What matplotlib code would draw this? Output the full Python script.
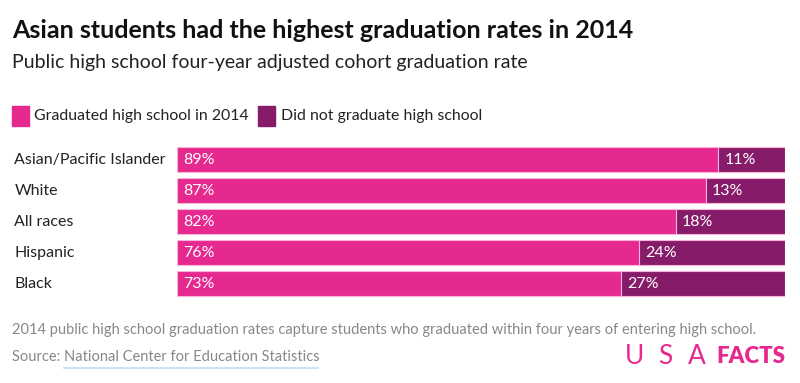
import matplotlib.pyplot as plt
import matplotlib.transforms as mtransforms
import numpy as np

plt.rcParams['font.family'] = ['Lato', 'DejaVu Sans']

groups = ["Asian/Pacific Islander", "White", "All races", "Hispanic", "Black"]
graduated = [89, 87, 82, 76, 73]
not_graduated = [11, 13, 18, 24, 27]
pink = '#E6298F'
purple = '#861C69'

fig = plt.figure(figsize=(8, 3.83), dpi=100)
ax = fig.add_axes([0.22125, 0.219, 0.76, 0.4047])

y = np.arange(len(groups))
ax.barh(y, graduated, height=0.82, color=pink, edgecolor='#F7B3D8', linewidth=0.8)
ax.barh(y, not_graduated, left=graduated, height=0.82, color=purple, edgecolor='#F7B3D8', linewidth=0.8)
for i in range(len(groups)):
    ax.text(1, y[i], f"{graduated[i]}%", color='white', va='center', ha='left', fontsize=11.5)
    ax.text(graduated[i] + 1, y[i], f"{not_graduated[i]}%", color='white', va='center', ha='left', fontsize=11.5)

# category labels, left aligned at the figure edge
trans = mtransforms.blended_transform_factory(fig.transFigure, ax.transData)
for i in range(len(groups)):
    ax.text(0.018, y[i], groups[i], transform=trans, fontsize=11.5, color='#222222', va='center', ha='left')

ax.set_xlim(0, 100)
ax.set_ylim(len(groups) - 0.5, -0.5)
ax.set_yticks([])
ax.set_xticks([])
for s in ax.spines.values():
    s.set_visible(False)

fig.text(0.015, 0.921, "Asian students had the highest graduation rates in 2014",
         fontsize=18, fontweight='bold', color='#111111', va='center')
fig.text(0.015, 0.838, "Public high school four-year adjusted cohort graduation rate",
         fontsize=14, color='#222222', va='center')

# legend
fig.patches.append(plt.Rectangle((0.015, 0.672), 0.021, 0.05, transform=fig.transFigure, color=pink))
fig.text(0.043, 0.697, "Graduated high school in 2014", fontsize=11.4, color='#222222', va='center')
fig.patches.append(plt.Rectangle((0.323, 0.672), 0.021, 0.05, transform=fig.transFigure, color=purple))
fig.text(0.351, 0.697, "Did not graduate high school", fontsize=11.4, color='#222222', va='center')

fig.text(0.015, 0.138, "2014 public high school graduation rates capture students who graduated within four years of entering high school.",
         fontsize=10.5, color='#888888', va='center')
fig.text(0.015, 0.068, "Source: ", fontsize=10.5, color='#888888', va='center')
fig.text(0.08, 0.068, "National Center for Education Statistics", fontsize=10.5, color='#888888', va='center')
fig.lines.append(plt.Line2D([0.08, 0.397], [0.038, 0.038], transform=fig.transFigure, color='#BEE0F2', linewidth=1.2))

# logo
for xp, ch in zip([0.781, 0.823, 0.860], "USA"):
    fig.text(xp, 0.068, ch, fontsize=19, color=pink, fontweight='normal', va='center')
fig.text(0.982, 0.068, "FACTS", fontsize=16, color=pink, fontweight='heavy', va='center', ha='right')

fig.savefig("out.png", dpi=100)
